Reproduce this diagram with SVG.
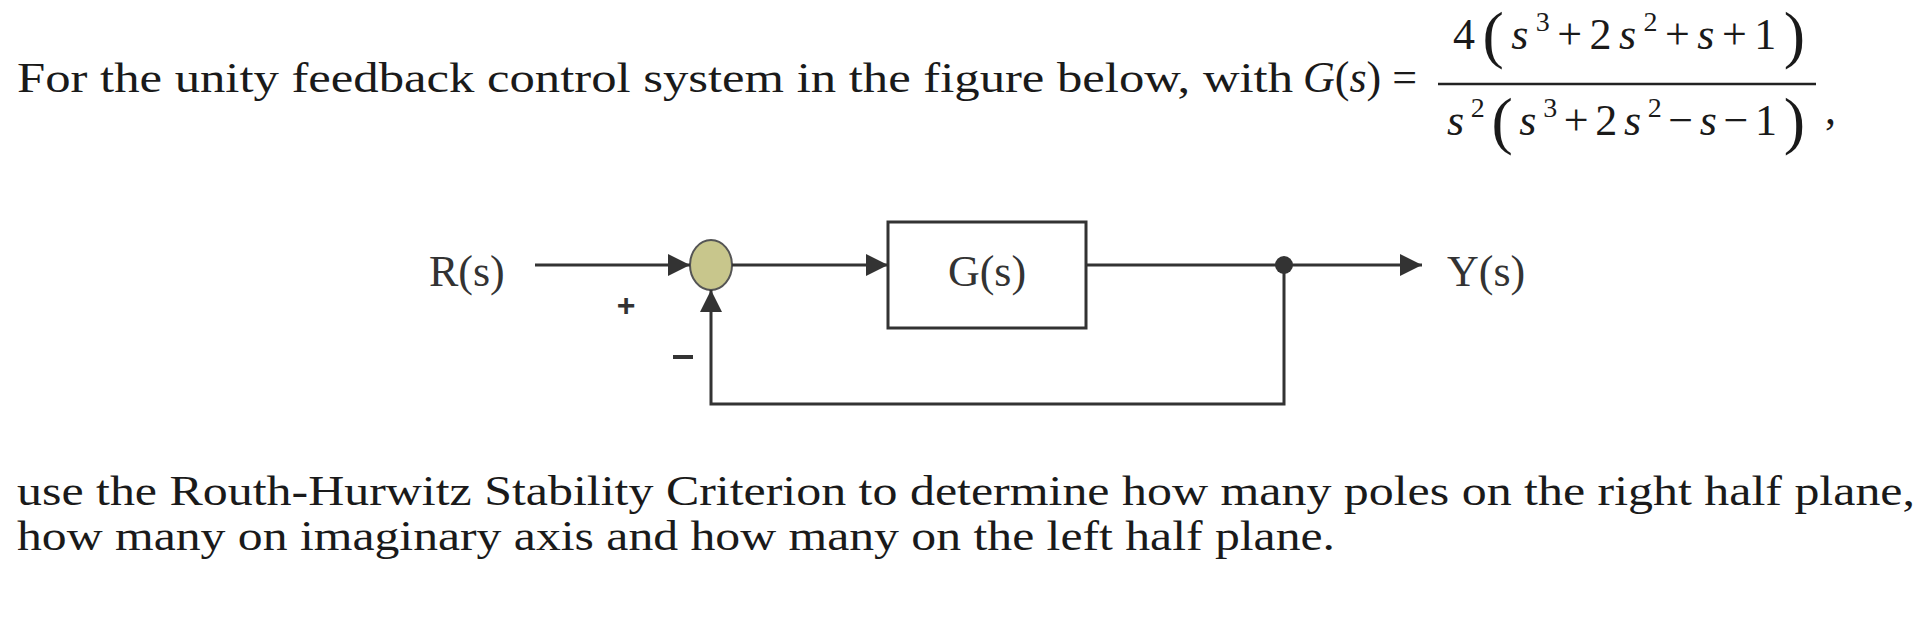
<svg xmlns="http://www.w3.org/2000/svg" width="1931" height="643" viewBox="0 0 1931 643">
<style>
.t{font-family:"Liberation Serif",serif;font-size:42px;fill:#1a1a1a}
.m{font-family:"Liberation Serif",serif;font-size:44px;fill:#1a1a1a}
.i{font-style:italic}
.sup{font-size:28px}
.p{font-size:64px}
.ln{stroke:#333;stroke-width:3;fill:none}
.lb{font-family:"Liberation Serif",serif;font-size:44px;fill:#333}
</style>
<defs>
<marker id="a2" viewBox="0 0 10 10" refX="10" refY="5" markerWidth="22" markerHeight="22" orient="auto" markerUnits="userSpaceOnUse"><path d="M0,0 L10,5 L0,10 z" fill="#333"/></marker>
</defs>
<rect width="1931" height="643" fill="#fff"/>
<text class="t" x="17" y="92" textLength="1276" lengthAdjust="spacingAndGlyphs">For the unity feedback control system in the figure below, with</text>
<text class="m" x="1303" y="92"><tspan class="i">G</tspan>(<tspan class="i">s</tspan>) =</text>
<text class="m" x="1453" y="49" textLength="352" lengthAdjust="spacing">4<tspan class="p" dy="7">(</tspan><tspan class="i" dy="-7">s</tspan><tspan class="sup" dy="-18">3</tspan><tspan dy="18">+2</tspan><tspan class="i">s</tspan><tspan class="sup" dy="-18">2</tspan><tspan dy="18">+</tspan><tspan class="i">s</tspan>+1<tspan class="p" dy="7">)</tspan></text>
<line x1="1438" y1="84" x2="1816" y2="84" stroke="#222" stroke-width="2.5"/>
<text class="m" x="1447" y="135" textLength="358" lengthAdjust="spacing"><tspan class="i">s</tspan><tspan class="sup" dy="-18">2</tspan><tspan class="p" dy="25">(</tspan><tspan class="i" dy="-7">s</tspan><tspan class="sup" dy="-18">3</tspan><tspan dy="18">+2</tspan><tspan class="i">s</tspan><tspan class="sup" dy="-18">2</tspan><tspan dy="18">−</tspan><tspan class="i">s</tspan>−1<tspan class="p" dy="7">)</tspan></text>
<text class="m" x="1825" y="124">,</text>
<g id="R"><text class="lb" x="429" y="286">R(s)</text></g>
<g id="sum"><ellipse cx="711" cy="265" rx="21" ry="25" fill="#c8c68c" stroke="#555" stroke-width="2"/></g>
<g id="G"><rect x="888" y="222" width="198" height="106" fill="#fff" stroke="#333" stroke-width="3"/><text class="lb" x="987" y="286" text-anchor="middle">G(s)</text></g>
<g id="Y"><text class="lb" x="1447" y="286">Y(s)</text></g>
<g id="connectors">
<line class="ln" x1="535" y1="265" x2="690" y2="265" marker-end="url(#a2)"/>
<line class="ln" x1="732" y1="265" x2="888" y2="265" marker-end="url(#a2)"/>
<line class="ln" x1="1086" y1="265" x2="1422" y2="265" marker-end="url(#a2)"/>
<polyline class="ln" points="1284,265 1284,404 711,404 711,290" marker-end="url(#a2)"/>
<circle cx="1284" cy="265" r="9" fill="#333"/>
</g>
<text x="626" y="316" font-family="Liberation Sans,sans-serif" font-size="32" font-weight="bold" fill="#333" text-anchor="middle">+</text>
<line x1="673" y1="357" x2="693" y2="357" stroke="#333" stroke-width="4"/>
<text class="t" x="17" y="505" textLength="1898" lengthAdjust="spacingAndGlyphs">use the Routh-Hurwitz Stability Criterion to determine how many poles on the right half plane,</text>
<text class="t" x="17" y="550" textLength="1318" lengthAdjust="spacingAndGlyphs">how many on imaginary axis and how many on the left half plane.</text>
</svg>
